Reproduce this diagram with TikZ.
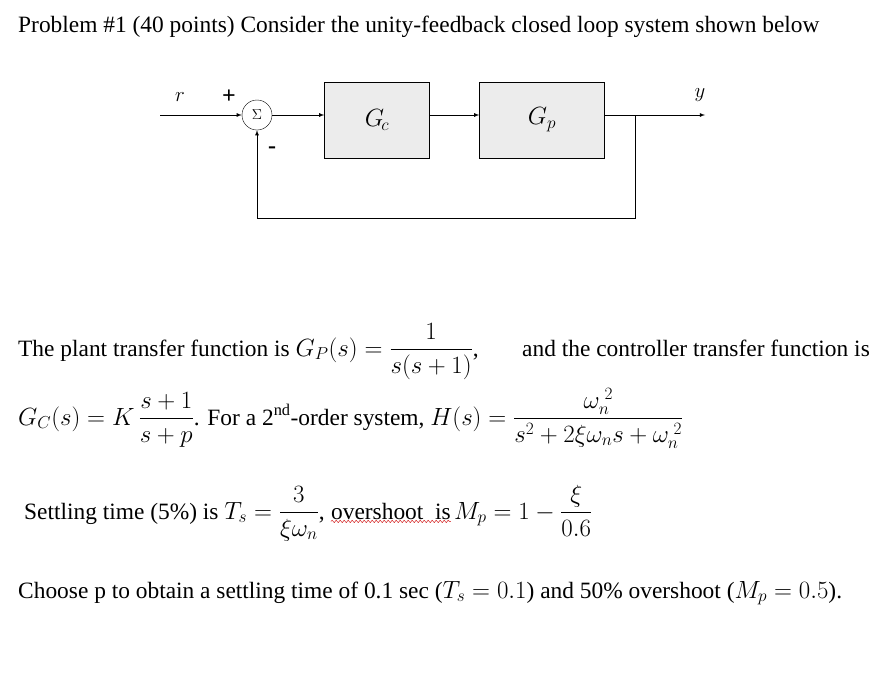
\documentclass[tikz,border=0pt]{standalone}
\usepackage{fontspec}
\setmainfont{Liberation Serif}
\usepackage{amsmath}
\usetikzlibrary{positioning,decorations.pathmorphing}
\tikzset{
  blk/.style={draw,fill=gray!15,minimum height=76pt,font=\fontsize{27}{30}\selectfont},
  sumnode/.style={draw,circle,minimum size=30pt,inner sep=0pt,font=\fontsize{14}{16}\selectfont},
  sig/.style={-latex,thick},
  txt/.style={anchor=base west,inner sep=0pt,font=\fontsize{23.4}{28}\selectfont},
}
\begin{document}
\begin{tikzpicture}[x=1pt,y=-1pt]
\useasboundingbox (0,0) rectangle (894,672);
\node[txt] (title) at (18,32) {Problem \#1 (40 points) Consider the unity-feedback closed loop system shown below};
% block diagram
\coordinate (in) at (160,115);
\node[sumnode] (sum) at (257,115) {$\Sigma$};
\node[blk,minimum width=105pt] (gc) at (377,120) {$G_{\!c}$};
\node[blk,minimum width=125pt] (gp) at (542,120) {$G_p$};
\coordinate (out) at (705,115);
\coordinate (tap) at (635,115);
\coordinate (fb1) at (635,218);
\coordinate (fb2) at (257,218);
\draw[sig] (in) -- (sum);
\draw[sig] (sum) -- (gc.west |- sum);
\draw[sig] (gc.east |- sum) -- (gp.west |- sum);
\draw[sig] (gp.east |- sum) -- (out);
\draw[thick] (tap) -- (fb1) -- (fb2);
\draw[sig] (fb2) -- (sum);
\node[font=\fontsize{22}{24}\selectfont] (r) at (180,97) {$r$};
\node[font=\fontsize{24}{26}\selectfont\bfseries] (plus) at (229,97) {+};
\node[font=\fontsize{24}{26}\selectfont\bfseries] (minus) at (272,150) {-};
\node[font=\fontsize{22}{24}\selectfont] (y) at (700,95) {$y$};
% text
\node[txt] (l1a) at (18,356) {The plant transfer function is $G_P(s)=\dfrac{1}{s(s+1)}$,};
\node[txt,anchor=base east] (l1b) at (870,356) {and the controller transfer function is};
\node[txt] (l2) at (18,425) {$G_C(s)=K\,\dfrac{s+1}{s+p}$. For a 2\textsuperscript{nd}-order system, $H(s)=\dfrac{\omega_n^{\;2}}{s^2+2\xi\omega_n s+\omega_n^{\;2}}$};
\node[txt] (l3a) at (24,519) {Settling time (5\%) is $T_s=\dfrac{3}{\xi\omega_n}$,};
\node[txt,anchor=base west] (ov) at ([xshift=6pt]l3a.base east) {overshoot\ \ is};
\node[txt,anchor=base west] (l3c) at ([xshift=3pt]ov.base east) {$M_p=1-\dfrac{\xi}{0.6}$};
\draw[red!80!black,decorate,decoration={snake,amplitude=1.2pt,segment length=4pt}] ([yshift=-2pt]ov.south west) -- ([yshift=-2pt]ov.south east);
\node[txt] (l4) at (18,598) {Choose p to obtain a settling time of 0.1 sec ($T_s=0.1$) and 50\% overshoot ($M_p=0.5$).};
\end{tikzpicture}
\end{document}
